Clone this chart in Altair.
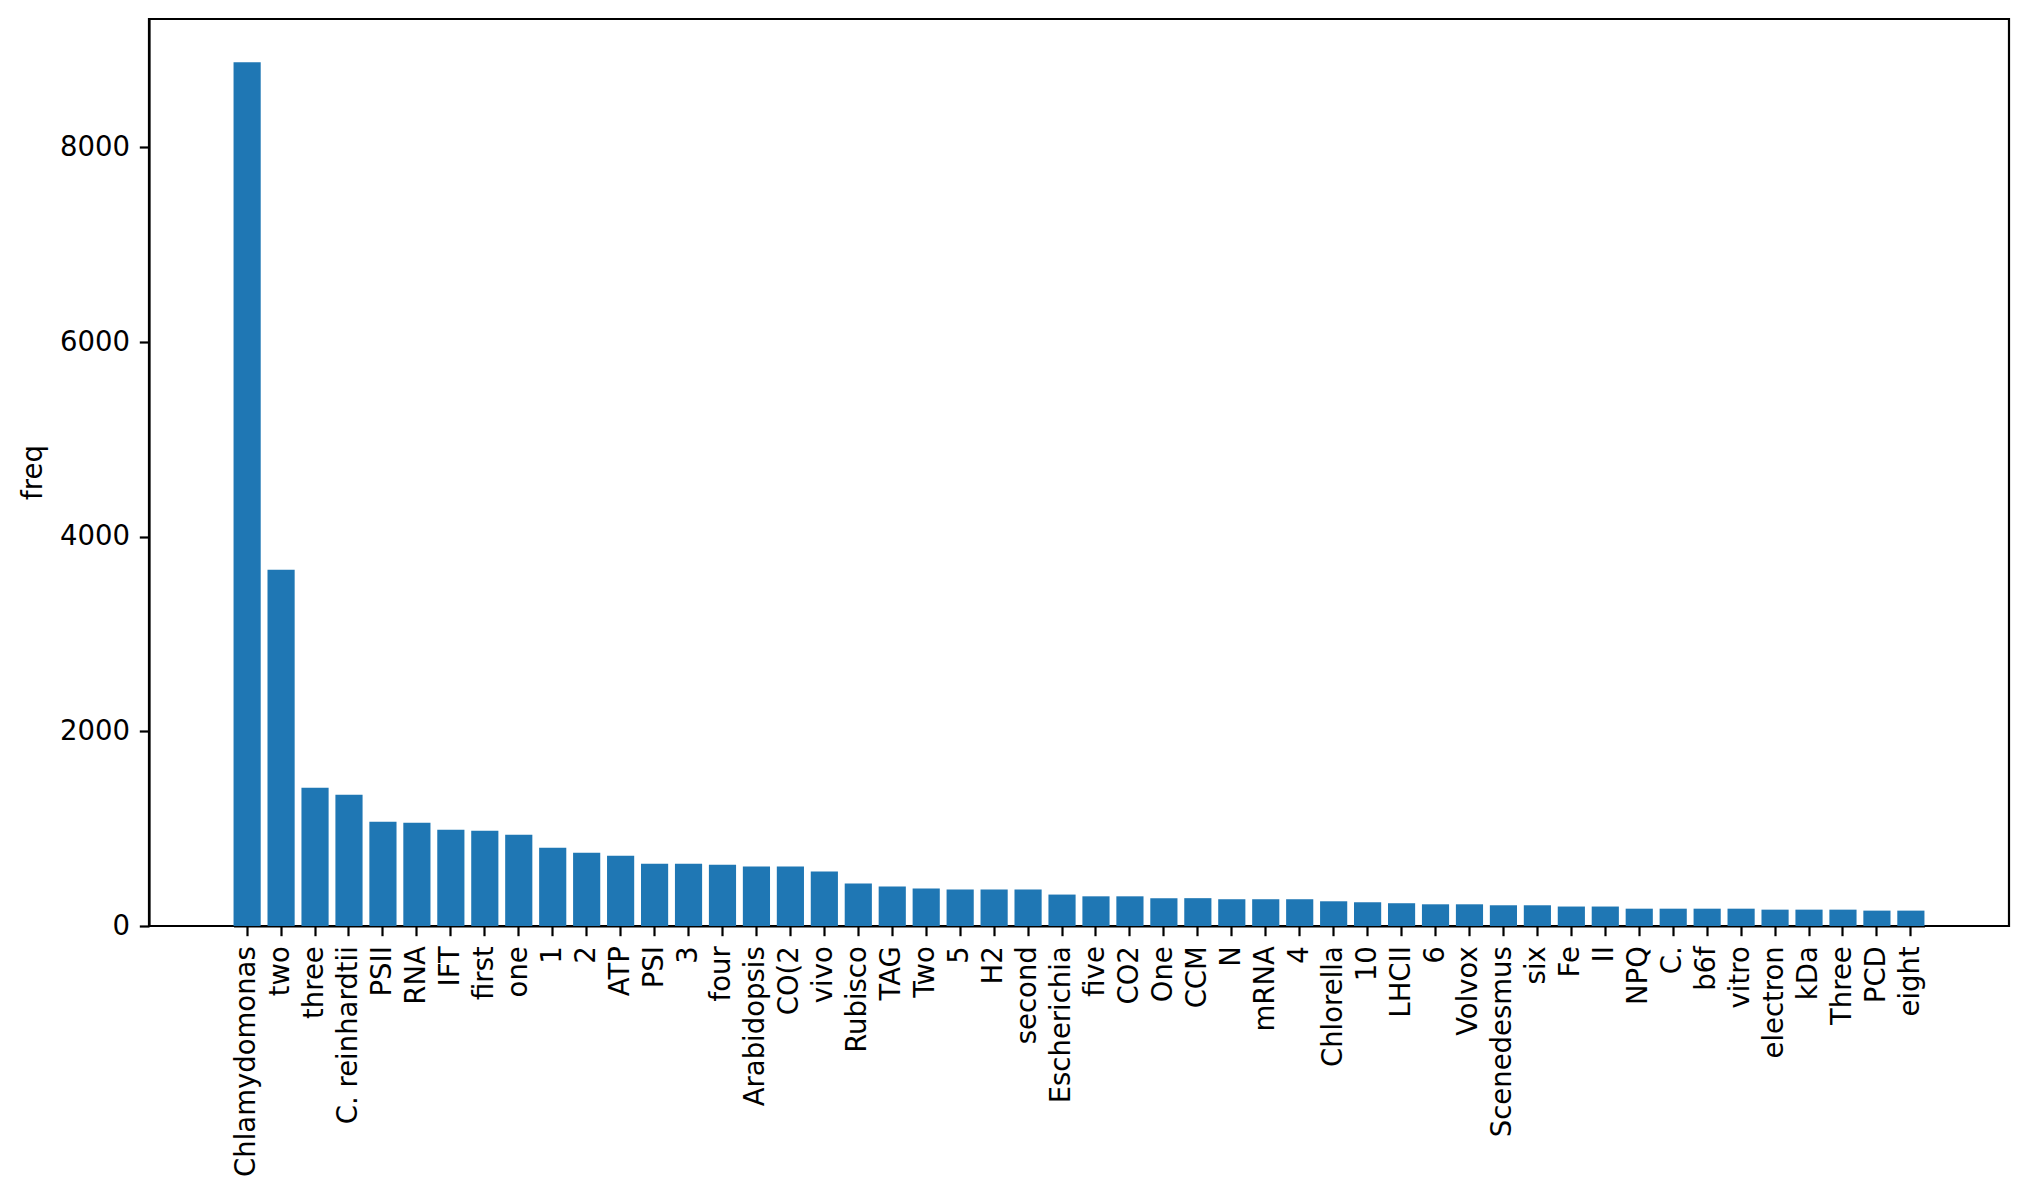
import altair as alt
import pandas as pd

words = ["Chlamydomonas", "two", "three", "C. reinhardtii", "PSII", "RNA", "IFT", "first", "one", "1",
         "2", "ATP", "PSI", "3", "four", "Arabidopsis", "CO(2", "vivo", "Rubisco", "TAG",
         "Two", "5", "H2", "second", "Escherichia", "five", "CO2", "One", "CCM", "N",
         "mRNA", "4", "Chlorella", "10", "LHCII", "6", "Volvox", "Scenedesmus", "six", "Fe",
         "II", "NPQ", "C.", "b6f", "vitro", "electron", "kDa", "Three", "PCD", "eight"]
freq = [8875, 3660, 1420, 1348, 1072, 1062, 990, 979, 938, 804,
        753, 722, 640, 640, 630, 611, 611, 560, 436, 405,
        385, 374, 374, 374, 323, 305, 305, 286, 286, 275,
        275, 275, 254, 244, 234, 223, 223, 213, 213, 200,
        200, 178, 178, 178, 178, 168, 168, 168, 158, 158]
y_ticks = [0, 2000, 4000, 6000, 8000]

df = pd.DataFrame({"word": words, "freq": freq})

FONT = "DejaVu Sans"
FS = 27.5
W = 1860
H = 907
step = W / 54.78
x_start = 2.49 * step
x_end = W - 2.49 * step

chart = alt.Chart(df).mark_bar(color="#1f77b4").encode(
    x=alt.X("word:N", sort=None, title=None,
            scale=alt.Scale(paddingInner=0.2, paddingOuter=0, range=[x_start, x_end]),
            axis=alt.Axis(labelAngle=270, labelFont=FONT, labelFontSize=FS,
                          labelColor="black", tickColor="black", tickSize=9.7,
                          tickWidth=2.2, domainColor="black", domainWidth=2.2,
                          labelPadding=10, labelLimit=1000, labelOverlap=False,
                          grid=False)),
    y=alt.Y("freq:Q", title="freq",
            scale=alt.Scale(domain=[0, 9320], nice=False, zero=True),
            axis=alt.Axis(values=y_ticks, format="d", labelFont=FONT, labelFontSize=FS,
                          labelColor="black", tickColor="black", tickSize=9.7,
                          tickWidth=2.2, domainColor="black", domainWidth=2.2,
                          labelPadding=9.7, grid=False,
                          titleFont=FONT, titleFontSize=FS, titleFontWeight="normal",
                          titleColor="black", titleX=-116, titleY=453,
                          titleAngle=270, titleAlign="center", titleBaseline="middle")),
).properties(
    width=W,
    height=H,
    autosize=alt.AutoSizeParams(type="none"),
    padding={"left": 141, "top": 11, "right": 12, "bottom": 255},
).configure(
    background="white",
    view=alt.ViewConfig(stroke="black", strokeWidth=2.2),
)

chart.save("out.html", embed_options={"renderer": "svg", "actions": False})
